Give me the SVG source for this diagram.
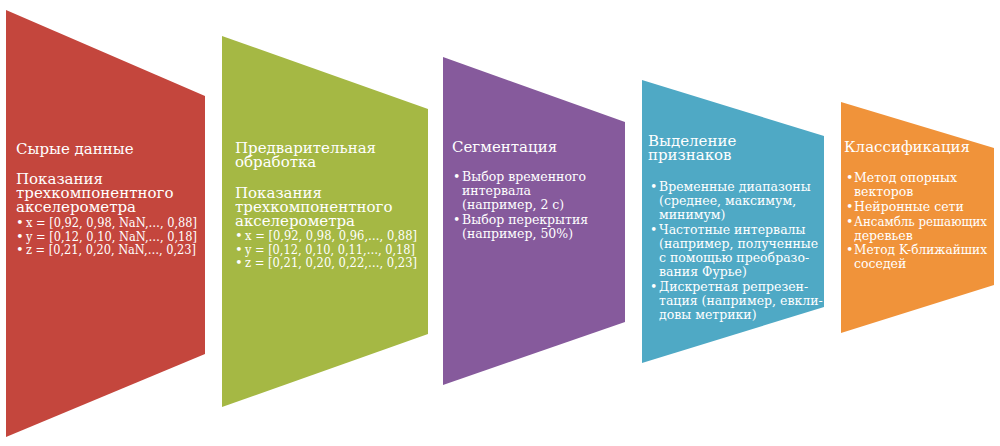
<svg xmlns="http://www.w3.org/2000/svg" width="1000" height="446" viewBox="0 0 1000 446">
<style>
text{font-family:"DejaVu Serif","Liberation Serif",serif;fill:#ffffff}
.t{font-size:15px}
.b{font-size:15px}
.s{font-size:12.5px}
.n{font-size:13px}
</style>
<rect width="1000" height="446" fill="#ffffff"/>
<g id="node-raw">
<polygon points="6,10 205,96 205,354 6,437" fill="#C4463D"/>
<text class="t" x="16" y="154">Сырые данные</text>
<text class="b" x="16" y="183.5">Показания</text>
<text class="b" x="16" y="197.5">трехкомпонентного</text>
<text class="b" x="16" y="211.5">акселерометра</text>
<text class="n" x="16" y="227">•</text><text class="n" x="26" y="227" textLength="171" lengthAdjust="spacingAndGlyphs">x = [0,92, 0,98, NaN,…, 0,88]</text>
<text class="n" x="16" y="240.5">•</text><text class="n" x="26" y="240.5" textLength="171" lengthAdjust="spacingAndGlyphs">y = [0,12, 0,10, NaN,…, 0,18]</text>
<text class="n" x="16" y="254">•</text><text class="n" x="26" y="254" textLength="170" lengthAdjust="spacingAndGlyphs">z = [0,21, 0,20, NaN,…, 0,23]</text>
</g>
<g id="node-preprocessing">
<polygon points="222,36 428,109 428,334 222,407" fill="#A5B844"/>
<text class="t" x="235" y="153">Предварительная</text>
<text class="t" x="235" y="167">обработка</text>
<text class="b" x="235" y="198">Показания</text>
<text class="b" x="235" y="212">трехкомпонентного</text>
<text class="b" x="235" y="225.5">акселерометра</text>
<text class="n" x="235" y="240">•</text><text class="n" x="245" y="240" textLength="172" lengthAdjust="spacingAndGlyphs">x = [0,92, 0,98, 0,96,…, 0,88]</text>
<text class="n" x="235" y="253.5">•</text><text class="n" x="245" y="253.5" textLength="170" lengthAdjust="spacingAndGlyphs">y = [0,12, 0,10, 0,11,…, 0,18]</text>
<text class="n" x="235" y="267">•</text><text class="n" x="245" y="267" textLength="172" lengthAdjust="spacingAndGlyphs">z = [0,21, 0,20, 0,22,…, 0,23]</text>
</g>
<g id="node-segmentation">
<polygon points="443,57 625,122 625,322 443,385" fill="#865A9C"/>
<text class="t" x="452" y="152">Сегментация</text>
<text class="s" x="453" y="181">•</text><text class="s" x="462" y="181">Выбор временного</text>
<text class="s" x="462" y="195">интервала</text>
<text class="s" x="462" y="209">(например, 2 с)</text>
<text class="s" x="453" y="224">•</text><text class="s" x="462" y="224">Выбор перекрытия</text>
<text class="s" x="462" y="238">(например, 50%)</text>
</g>
<g id="node-features">
<polygon points="642,80 824,136 824,307 642,363" fill="#4FA9C5"/>
<text class="t" x="648" y="146">Выделение</text>
<text class="t" x="648" y="160">признаков</text>
<text class="s" x="650" y="191">•</text><text class="s" x="659" y="191">Временные диапазоны</text>
<text class="s" x="659" y="205">(среднее, максимум,</text>
<text class="s" x="659" y="219">минимум)</text>
<text class="s" x="650" y="234">•</text><text class="s" x="659" y="234">Частотные интервалы</text>
<text class="s" x="659" y="248">(например, полученные</text>
<text class="s" x="659" y="262">с помощью преобразо-</text>
<text class="s" x="659" y="276">вания Фурье)</text>
<text class="s" x="650" y="291">•</text><text class="s" x="659" y="291">Дискретная репрезен-</text>
<text class="s" x="659" y="305">тация (например, евкли-</text>
<text class="s" x="659" y="319">довы метрики)</text>
</g>
<g id="node-classification">
<polygon points="841,102 994,148 994,285 841,333" fill="#F0933A"/>
<text class="t" x="844" y="152">Классификация</text>
<text class="s" x="846" y="182">•</text><text class="s" x="854" y="182">Метод опорных</text>
<text class="s" x="854" y="196">векторов</text>
<text class="s" x="846" y="211">•</text><text class="s" x="854" y="211">Нейронные сети</text>
<text class="s" x="846" y="226">•</text><text class="s" x="854" y="226" textLength="133" lengthAdjust="spacingAndGlyphs">Ансамбль решающих</text>
<text class="s" x="854" y="240">деревьев</text>
<text class="s" x="846" y="254">•</text><text class="s" x="854" y="254" textLength="133" lengthAdjust="spacingAndGlyphs">Метод K-ближайших</text>
<text class="s" x="854" y="268">соседей</text>
</g>
</svg>
